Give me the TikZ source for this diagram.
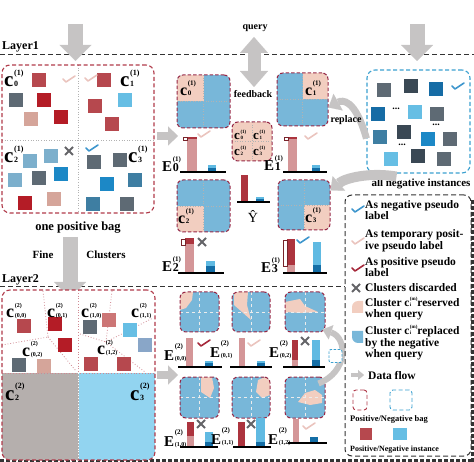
\documentclass[tikz,border=0pt]{standalone}
\usepackage{fontspec}
\setmainfont{Liberation Serif}
\usetikzlibrary{arrows.meta}
\definecolor{bagred}{RGB}{176,58,74}
\definecolor{bagblue}{RGB}{58,160,207}
\definecolor{cblue}{RGB}{120,183,217}
\definecolor{cpink}{RGB}{242,206,192}
\definecolor{ideep}{RGB}{180,28,38}
\definecolor{ired}{RGB}{182,72,78}
\definecolor{ipale}{RGB}{213,165,154}
\definecolor{isalmon}{RGB}{204,118,118}
\definecolor{igray}{RGB}{94,106,116}
\definecolor{islate}{RGB}{58,72,84}
\definecolor{ilblue}{RGB}{102,190,228}
\definecolor{ibgray}{RGB}{124,175,204}
\definecolor{ibright}{RGB}{28,136,198}
\definecolor{inblue}{RGB}{22,108,165}
\definecolor{iteal}{RGB}{62,126,162}
\definecolor{isteel}{RGB}{137,166,200}
\definecolor{barpink}{RGB}{212,150,152}
\definecolor{bardark}{RGB}{172,52,62}
\definecolor{barlb}{RGB}{96,186,226}
\definecolor{bardb}{RGB}{20,110,166}
\definecolor{cneg}{RGB}{62,150,205}
\definecolor{cpale}{RGB}{234,196,190}
\definecolor{cposc}{RGB}{165,40,58}
\definecolor{xgray}{RGB}{100,100,104}
\definecolor{agray}{RGB}{198,196,196}
\definecolor{fgray}{RGB}{181,175,173}
\definecolor{fblue}{RGB}{146,212,240}
\definecolor{bdark}{RGB}{150,40,70}

\newcommand\sq[3]{\fill[#1] (#2,#3) rectangle ++(14,14);}
\newcommand\chk[3]{\draw[#1,line width=1.6pt,line cap=round,line join=round] (#2,#3) -- ++(3,3) -- ++(9,-6);}
\newcommand\xmk[2]{\draw[xgray,line width=1.8pt] (#1-4,#2-4) -- (#1+4,#2+4) (#1-4,#2+4) -- (#1+4,#2-4);}
% c label: csize, scriptsize, sub, sup, extra gap
\newcommand\clab[5]{{\fontsize{#1}{#1}\selectfont\bfseries c}\kern0.6pt{\fontsize{#2}{#2}\selectfont\bfseries\shortstack[l]{(#4)\\[#5]#3}}}
% E label: sub, subsize, sup, gap
\newcommand\Elab[4]{{\fontsize{15}{15}\selectfont\bfseries E}\kern0.6pt{\bfseries\shortstack[l]{\fontsize{7}{7}\selectfont(#3)\\[#4]\fontsize{#2}{#2}\selectfont #1}}}
\newcommand\cim{c\kern0.4pt{\fontsize{5}{5}\selectfont\shortstack[l]{(m)\\[-1pt]i}}}
% mini box: name, cx, cy, hw, hh, content, line style
\newcommand\qbox[7]{%
 \begin{scope}
 \clip[rounded corners=6pt] (#2-#4,#3-#5) rectangle (#2+#4,#3+#5);
 \fill[cblue] (#2-#4,#3-#5) rectangle (#2+#4,#3+#5);
 #6
 \draw[#7] (#2,#3-#5) -- (#2,#3+#5) (#2-#4,#3) -- (#2+#4,#3);
 \end{scope}
 \node[minib, minimum width=2*#4, minimum height=2*#5] (#1) at (#2,#3) {};}

\tikzset{
 lay/.style={draw=black!80, line width=1pt, dash pattern=on 5pt off 3pt},
 posbag/.style={draw=bagred, line width=1.1pt, dash pattern=on 4pt off 2.5pt, rounded corners=8pt, inner sep=0pt},
 negbag/.style={draw=bagblue, line width=1.1pt, dash pattern=on 4pt off 2.5pt, rounded corners=8pt, inner sep=0pt},
 minib/.style={draw=bdark, line width=1pt, dash pattern=on 3.5pt off 2pt, rounded corners=6pt, inner sep=0pt},
 qline/.style={draw=gray!60, dotted, line width=0.6pt},
 wline/.style={draw=white!85!gray, dashed, line width=0.6pt},
 pdot/.style={draw=bagred!60, dotted, line width=0.8pt},
 bigarrow/.style={draw=agray, line width=15pt, -{Triangle[length=16pt,width=32pt,line width=0.01pt]}},
 dblarrow/.style={draw=agray, line width=13pt, {Triangle[length=16pt,width=28pt,line width=0.01pt]}-{Triangle[length=16pt,width=28pt,line width=0.01pt]}},
 medarrow/.style={draw=agray, line width=8pt, -{Triangle[length=10pt,width=19pt,line width=0.01pt]}},
 curarrow/.style={draw=agray, line width=#1, -{Triangle[length=11pt,width=19pt,line width=0.01pt]}},
 txt/.style={inner sep=0pt, font=\bfseries},
 base/.style={line width=1.6pt},
}

\begin{document}
\begin{tikzpicture}[x=1pt,y=-1pt]
\useasboundingbox (0,0) rectangle (474,462);

% ---------- layer lines ----------
\draw[lay] (0,55) -- (474,55);
\node[txt, anchor=base west, font=\bfseries\fontsize{12}{12}\selectfont] (l1) at (2,50) {Layer1};
\draw[lay] (0,287) -- (345,287);
\node[txt, anchor=base west, font=\bfseries\fontsize{12}{12}\selectfont] (l2) at (2,283) {Layer2};
\draw[black!80, line width=2.6pt, dash pattern=on 4pt off 2pt] (0,460.5) -- (474,460.5);
\draw[black!80, line width=2.4pt, dash pattern=on 4pt off 2pt] (472.5,200) -- (472.5,462);
\node[txt, font=\bfseries\fontsize{10}{10}\selectfont] (dots0) at (9,446) {...};

% ---------- big arrows ----------
\coordinate (in1) at (75.5,24);
\coordinate (in2) at (417,24);
\coordinate (qa) at (254,37);
\coordinate (qb) at (254,87);
\draw[bigarrow] (in1) -- (75.5,61);
\draw[bigarrow] (in2) -- (417,61);
\draw[dblarrow] (qa) -- (qb);
\node[txt, font=\bfseries\fontsize{10}{10}\selectfont] (query) at (255,28) {query};
\node[txt, font=\bfseries\fontsize{10}{10}\selectfont] (feedback) at (253,94) {feedback};

% ---------- layer 1 positive bag ----------
\draw[qline] (78,65) -- (78,213) (2,140) -- (154,140);
\sq{ired}{32}{73}
\sq{igray}{9}{93}
\sq{ideep}{37}{93}
\sq{ipale}{24}{112}
\sq{ideep}{54}{110}
\sq{ired}{97}{73}
\sq{ired}{88}{99}
\sq{ilblue}{118}{93}
\sq{ired}{105}{117}
\sq{ibgray}{23}{154}
\sq{ibgray}{44}{149}
\sq{ibgray}{8}{173}
\sq{igray}{32}{171}
\sq{ibright}{54}{167}
\sq{ideep}{18}{196}
\sq{ipale}{47}{192}
\sq{igray}{87}{155}
\sq{igray}{113}{153}
\sq{iteal}{128}{173}
\sq{ibright}{100}{177}
\sq{iteal}{86}{197}
\sq{igray}{120}{197}
\node[posbag, minimum width=152, minimum height=148] (bag1) at (78,139) {};
\node[inner sep=0, anchor=base west] (lc0) at (4,87) {\clab{21}{8}{0}{1}{1.5pt}};
\node[inner sep=0, anchor=base west] (lc1) at (120,87) {\clab{21}{8}{1}{1}{1.5pt}};
\node[inner sep=0, anchor=base west] (lc2) at (4,163) {\clab{21}{8}{2}{1}{1.5pt}};
\node[inner sep=0, anchor=base west] (lc3) at (128,163) {\clab{21}{8}{3}{1}{1.5pt}};
\chk{cpale}{63}{79}
\chk{cpale}{85}{78}
\chk{cneg}{86}{148}
\xmk{69}{151}
\node[txt, font=\bfseries\fontsize{12.5}{12.5}\selectfont, anchor=base] (bag1lab) at (78,231) {one positive bag};

\draw[medarrow] (157,136) -- (178,136);

% ---------- layer 1 mini boxes ----------
\qbox{c0box}{203.5}{101.5}{26.5}{26.5}{\fill[cpink] (177,75) rectangle (203.5,101.5);}{qline}
\node[inner sep=0, anchor=base west] (l0) at (180,96) {\clab{16}{7}{0}{1}{1pt}};
\qbox{c1box}{302.5}{99.5}{25.5}{26.5}{\fill[cpink] (302.5,73) rectangle (328,99.5);}{qline}
\node[inner sep=0, anchor=base west] (l1b) at (305,96) {\clab{16}{7}{1}{1}{1pt}};
\qbox{c2box}{203.5}{206}{26.5}{26}{\fill[cpink] (177,206) rectangle (203.5,232);}{qline}
\node[inner sep=0, anchor=base west] (l2b) at (178,224) {\clab{16}{7}{2}{1}{1pt}};
\qbox{c3box}{304}{205}{26}{25}{\fill[cpink] (304,205) rectangle (330,230);}{qline}
\node[inner sep=0, anchor=base west] (l3b) at (305,223) {\clab{16}{7}{3}{1}{1pt}};
\qbox{cbox}{252}{141.5}{20}{19.5}{\fill[cpink] (232,122) rectangle (272,161);}{qline}
\node[inner sep=0, anchor=base west] (s0) at (234,140) {\clab{13}{5}{0}{1}{-0.5pt}};
\node[inner sep=0, anchor=base west] (s1) at (253,140) {\clab{13}{5}{1}{1}{-0.5pt}};
\node[inner sep=0, anchor=base west] (s2) at (234,156) {\clab{13}{5}{2}{1}{-0.5pt}};
\node[inner sep=0, anchor=base west] (s3) at (253,156) {\clab{13}{5}{3}{1}{-0.5pt}};

% ---------- layer 1 bar charts ----------
% E0
\fill[barpink] (187,138) rectangle (197,171);
\fill[bardark] (187,137) rectangle (197,139.5);
\draw[bardark!70!black, line width=0.6pt, fill=white] (183,137) rectangle (187,140);
\fill[barlb] (208,165) rectangle (216,168);
\fill[bardb] (208,168) rectangle (216,171);
\draw[base] (180,172) -- (226,172);
\chk{cpale}{198}{134}
\node[inner sep=0, anchor=base west] (e0) at (162,172) {\Elab{0}{12}{1}{-2pt}};
% E1
\fill[barpink] (288,138) rectangle (297,171);
\fill[bardark] (288,137) rectangle (297,139.5);
\draw[bardark!70!black, line width=0.6pt, fill=white] (284,137) rectangle (288,140);
\fill[barlb] (312,165) rectangle (320,168);
\fill[bardb] (312,168) rectangle (320,171);
\draw[base] (283,172) -- (327,172);
\chk{cpale}{305}{136}
\node[inner sep=0, anchor=base west] (e1) at (264,171) {\Elab{1}{12}{1}{-2pt}};
% Y hat
\fill[bardark] (241,175) rectangle (248,201);
\fill[barlb] (256,197) rectangle (264,199);
\fill[bardb] (256,199) rectangle (264,201);
\draw[base] (237,202) -- (270,202);
\node[inner sep=0, font=\fontsize{14}{14}\selectfont] (yhat) at (253,216) {\^{Y}};
% E2
\fill[barpink] (185,238) rectangle (194,272);
\fill[bardark] (185,238) rectangle (194,244);
\draw[bardark!70!black, line width=0.6pt, fill=white] (181,239) rectangle (185,245);
\xmk{202}{242}
\fill[barlb] (206,261) rectangle (215,266);
\fill[bardb] (206,266) rectangle (215,272);
\draw[base] (178,273) -- (224,273);
\node[inner sep=0, anchor=base west] (e2) at (162,272) {\Elab{2}{12}{1}{-2pt}};
% E3
\fill[bardark] (287,239) rectangle (295,265);
\fill[barpink] (287,265) rectangle (295,272);
\draw[bardark!70!black, line width=0.6pt, fill=white] (283,240) rectangle (287,266);
\chk{cneg}{297}{240}
\fill[barlb] (313,242) rectangle (321,265);
\fill[bardb] (313,265) rectangle (321,272);
\draw[base] (283,273) -- (327,273);
\node[inner sep=0, anchor=base west] (e3) at (261,273) {\Elab{3}{12}{1}{-2pt}};

% ---------- negative instances ----------
\sq{igray}{377}{83}
\sq{islate}{404}{79}
\sq{inblue}{429}{82}
\sq{inblue}{371}{107}
\sq{ilblue}{408}{105}
\sq{igray}{430}{107}
\sq{iteal}{373}{130}
\sq{islate}{397}{125}
\sq{ibright}{421}{132}
\sq{igray}{443}{132}
\sq{ilblue}{384}{152}
\sq{islate}{411}{149}
\sq{igray}{437}{152}
\node[txt, font=\bfseries\fontsize{10}{10}\selectfont] (d1) at (396,109) {...};
\node[txt, font=\bfseries\fontsize{10}{10}\selectfont] (d2) at (436,125) {...};
\node[txt, font=\bfseries\fontsize{10}{10}\selectfont] (d3) at (402,145) {...};
\chk{cneg}{452}{86}
\node[negbag, minimum width=103, minimum height=103] (negbox) at (418.5,121.5) {};
\node[txt, font=\bfseries\fontsize{11}{11}\selectfont, anchor=base] (neglab) at (421,187) {all negative instances};

\draw[curarrow=7pt] ([yshift=-17pt]negbox.west) .. controls (355,98) and (342,100) .. ([yshift=-8pt]c1box.east);
\node[txt, font=\bfseries\fontsize{10}{10}\selectfont] (replace) at (346,120) {replace};
\draw[curarrow=10pt] ([xshift=-22pt,yshift=-3pt]negbox.south) .. controls (370,172) and (345,178) .. ([yshift=-11pt]c3box.north east);

% ---------- fine clusters ----------
\draw[bigarrow] (70,237) -- (70,298);
\node[txt, font=\bfseries\fontsize{11}{11}\selectfont] (fine) at (43,255) {Fine};
\node[txt, font=\bfseries\fontsize{11}{11}\selectfont] (clus) at (106,255) {Clusters};

% ---------- layer 2 bag ----------
\begin{scope}
\clip[rounded corners=8pt] (2,290) rectangle (155,460);
\fill[white] (2,290) rectangle (155,373);
\fill[fgray] (2,373) rectangle (78.5,460);
\fill[fblue] (78.5,373) rectangle (155,460);
\end{scope}
\draw[pdot] (78.5,290) -- (78.5,373) (2,373) -- (155,373);
\draw[white, dotted, line width=0.8pt] (78.5,373) -- (78.5,460);
\draw[pdot] (2,345) -- (48,337) (43,291) -- (48,337) (48,337) -- (76,371);
\draw[pdot] (80,334) -- (106,342) (106,342) -- (153,318) (106,342) -- (145,372) (112,291) -- (106,342);
\sq{ired}{17}{319}
\sq{ideep}{48}{317}
\sq{ideep}{58}{338}
\sq{igray}{12}{358}
\sq{ipale}{37}{359}
\sq{igray}{83}{320}
\sq{isalmon}{102}{313}
\sq{ilblue}{123}{323}
\sq{isteel}{138}{338}
\sq{ired}{84}{357}
\sq{ired}{117}{357}
\node[posbag, minimum width=153, minimum height=170] (bag2) at (78.5,375) {};
\node[inner sep=0, anchor=base west] (m00) at (6,318) {\clab{18}{6}{(0,0)}{2}{2.5pt}};
\node[inner sep=0, anchor=base west] (m01) at (47,318) {\clab{18}{6}{(0,1)}{2}{2.5pt}};
\node[inner sep=0, anchor=base west] (m10) at (81,318) {\clab{18}{6}{(1,0)}{2}{2.5pt}};
\node[inner sep=0, anchor=base west] (m11) at (131,318) {\clab{18}{6}{(1,1)}{2}{2.5pt}};
\node[inner sep=0, anchor=base west] (m02) at (22,356) {\clab{18}{6}{(0,2)}{2}{2.5pt}};
\node[inner sep=0, anchor=base west] (m12) at (97,355) {\clab{18}{6}{(1,2)}{2}{2.5pt}};
\node[inner sep=0, anchor=base west] (m2) at (5,400) {\clab{21}{8}{2}{2}{1.5pt}};
\node[inner sep=0, anchor=base west] (m3) at (130,400) {\clab{21}{8}{3}{2}{1.5pt}};

\draw[medarrow] (157,375) -- (178,375);

% ---------- layer 2 mini boxes ----------
\qbox{b00}{199.5}{312}{19.5}{20}{\fill[cpink] (180,292) -- (193,292) -- (192,300) -- (186,308) -- (180,310) -- cycle;}{wline}
\qbox{b01}{251}{312}{19}{20}{\fill[cpink] (234,292) -- (248,292) -- (247,305) -- (251,320) -- (242,312) -- (234,305) -- cycle;}{wline}
\qbox{b02}{305}{312}{20}{20}{\fill[cpink] (285,302) -- (300,299) -- (305,306) -- (318,312) -- (300,313) -- (285,312) -- cycle;}{wline}
\qbox{b10}{199.5}{397.5}{19.5}{20.5}{\fill[cpink] (201,377) -- (212,377) -- (214,388) -- (210,398) -- (201,392) -- cycle;}{wline}
\qbox{b11}{251}{397.5}{19}{20.5}{\fill[cpink] (258,380) -- (265,377) -- (270,380) -- (270,395) -- (262,398) -- (256,392) -- cycle;}{wline}
\qbox{b12}{305}{397.5}{20}{20.5}{\fill[cpink] (298,402) -- (305,393) -- (315,390) -- (322,395) -- (322,403) -- (310,405) -- cycle;}{wline}

% ---------- layer 2 bar charts ----------
% E(0,0)
\fill[barpink] (186,338) rectangle (193,366);
\fill[barlb] (205,361) rectangle (213,363);
\fill[bardb] (205,363) rectangle (213,366);
\chk{cposc}{198}{343}
\draw[base] (178,367) -- (222,367);
\node[inner sep=0, anchor=base west] (f00) at (164,360) {\Elab{(0,0)}{6}{2}{2.5pt}};
% E(0,1)
\fill[barpink] (239,338) rectangle (245,366);
\fill[barlb] (257,361) rectangle (265,363);
\fill[bardb] (257,363) rectangle (265,366);
\chk{cpale}{248}{343}
\draw[base] (230,367) -- (272,367);
\node[inner sep=0, anchor=base west] (f01) at (210,357) {\Elab{(0,1)}{6}{2}{2.5pt}};
% E(0,2)
\fill[bardark] (292,340) rectangle (298,360);
\fill[barpink] (292,360) rectangle (298,366);
\xmk{305}{341}
\fill[barlb] (312,340) rectangle (320,360);
\fill[bardb] (312,360) rectangle (320,366);
\draw[base] (283,367) -- (325,367);
\node[inner sep=0, anchor=base west] (f02) at (269,357) {\Elab{(0,2)}{6}{2}{2.5pt}};
% E(1,0)
\fill[bardark] (187,422) rectangle (194,436);
\fill[barpink] (187,436) rectangle (194,446);
\xmk{201}{424}
\fill[barlb] (205,432) rectangle (213,442);
\fill[bardb] (205,442) rectangle (213,446);
\draw[base] (180,447) -- (218,447);
\node[inner sep=0, anchor=base west] (f10) at (164,446) {\Elab{(1,0)}{6}{2}{2.5pt}};
% E(1,1)
\fill[bardark] (238,422) rectangle (245,446);
\xmk{251}{424}
\fill[barlb] (256,418) rectangle (265,442);
\fill[bardb] (256,442) rectangle (265,446);
\draw[base] (233,447) -- (271,447);
\node[inner sep=0, anchor=base west] (f11) at (211,444) {\Elab{(1,1)}{6}{2}{2.5pt}};
% E(1,2)
\fill[barpink] (293,419) rectangle (299,442);
\chk{cpale}{303}{426}
\fill[bardb] (310,437) rectangle (318,442);
\draw[base] (288,443) -- (327,443);
\node[inner sep=0, anchor=base west] (f12) at (268,444) {\Elab{(1,2)}{6}{2}{2.5pt}};

% curved arrow in layer 2
\draw[draw=agray, line width=6pt, -{Triangle[length=9pt,width=15pt,line width=0.01pt]}] ([xshift=-7pt,yshift=-7pt]b12.north east) .. controls (348,372) and (348,338) .. ([xshift=-3pt,yshift=3pt]b02.south east);
\node[negbag, fill=white, rounded corners=2pt, line width=0.9pt, dash pattern=on 2.5pt off 1.5pt, minimum width=13, minimum height=13] (qsmall) at (335.5,356) {};

% ---------- legend ----------
\node[draw=black!80, line width=1pt, dash pattern=on 5pt off 3pt, rounded corners=7pt, minimum width=126, minimum height=261, inner sep=0] (legend) at (408,325.5) {};
\tikzset{lt/.style={txt, anchor=base west, font=\bfseries\fontsize{11.5}{11.5}\selectfont}}
\chk{cneg}{352}{209}
\node[lt] (t1) at (365,209) {As negative pseudo};
\node[lt] (t1b) at (365,220) {label};
\chk{cpale}{352}{241}
\node[lt] (t2) at (365,238) {As temporary posit-};
\node[lt] (t2b) at (365,250) {ive pseudo label};
\chk{cposc}{352}{268}
\node[lt] (t3) at (365,266) {As positive pseudo};
\node[lt] (t3b) at (365,277) {label};
\xmk{356}{288}
\node[lt] (t4) at (365,292) {Clusters discarded};
\fill[cpink] (363,313) -- (352,313) -- (352,307) arc[start angle=180, end angle=90, radius=6pt] -- (363,301) -- cycle;
\node[lt] (t5) at (365,307) {Cluster \cim reserved};
\node[lt] (t5b) at (365,318) {when query};
\fill[cblue] (363,331) -- (352,331) -- (352,337) arc[start angle=180, end angle=270, radius=6pt] -- (363,343) -- cycle;
\node[lt] (t6) at (365,335) {Cluster \cim replaced};
\node[lt] (t6b) at (365,346) {by the negative};
\node[lt] (t6c) at (365,357) {when query};
\coordinate (lga) at (351,375);
\draw[draw=agray, line width=4pt, -{Triangle[length=6pt,width=10pt,line width=0.01pt]}] (lga) -- (364,375);
\node[lt] (t7) at (368,379) {Data flow};
\node[posbag, rounded corners=3pt, line width=0.9pt, minimum width=14, minimum height=20] (lgpos) at (360,400) {};
\node[negbag, rounded corners=3pt, line width=0.9pt, minimum width=22, minimum height=20] (lgneg) at (401,400) {};
\node[txt, anchor=base west, font=\bfseries\fontsize{8.5}{8.5}\selectfont] (t8) at (350,421) {Positive/Negative bag};
\fill[ired] (360,428) rectangle (372,440);
\fill[ilblue] (393,428) rectangle (407,440);
\node[txt, anchor=base west, font=\bfseries\fontsize{8}{8}\selectfont] (t9) at (350,451) {Positive/Negative instance};
\end{tikzpicture}
\end{document}
